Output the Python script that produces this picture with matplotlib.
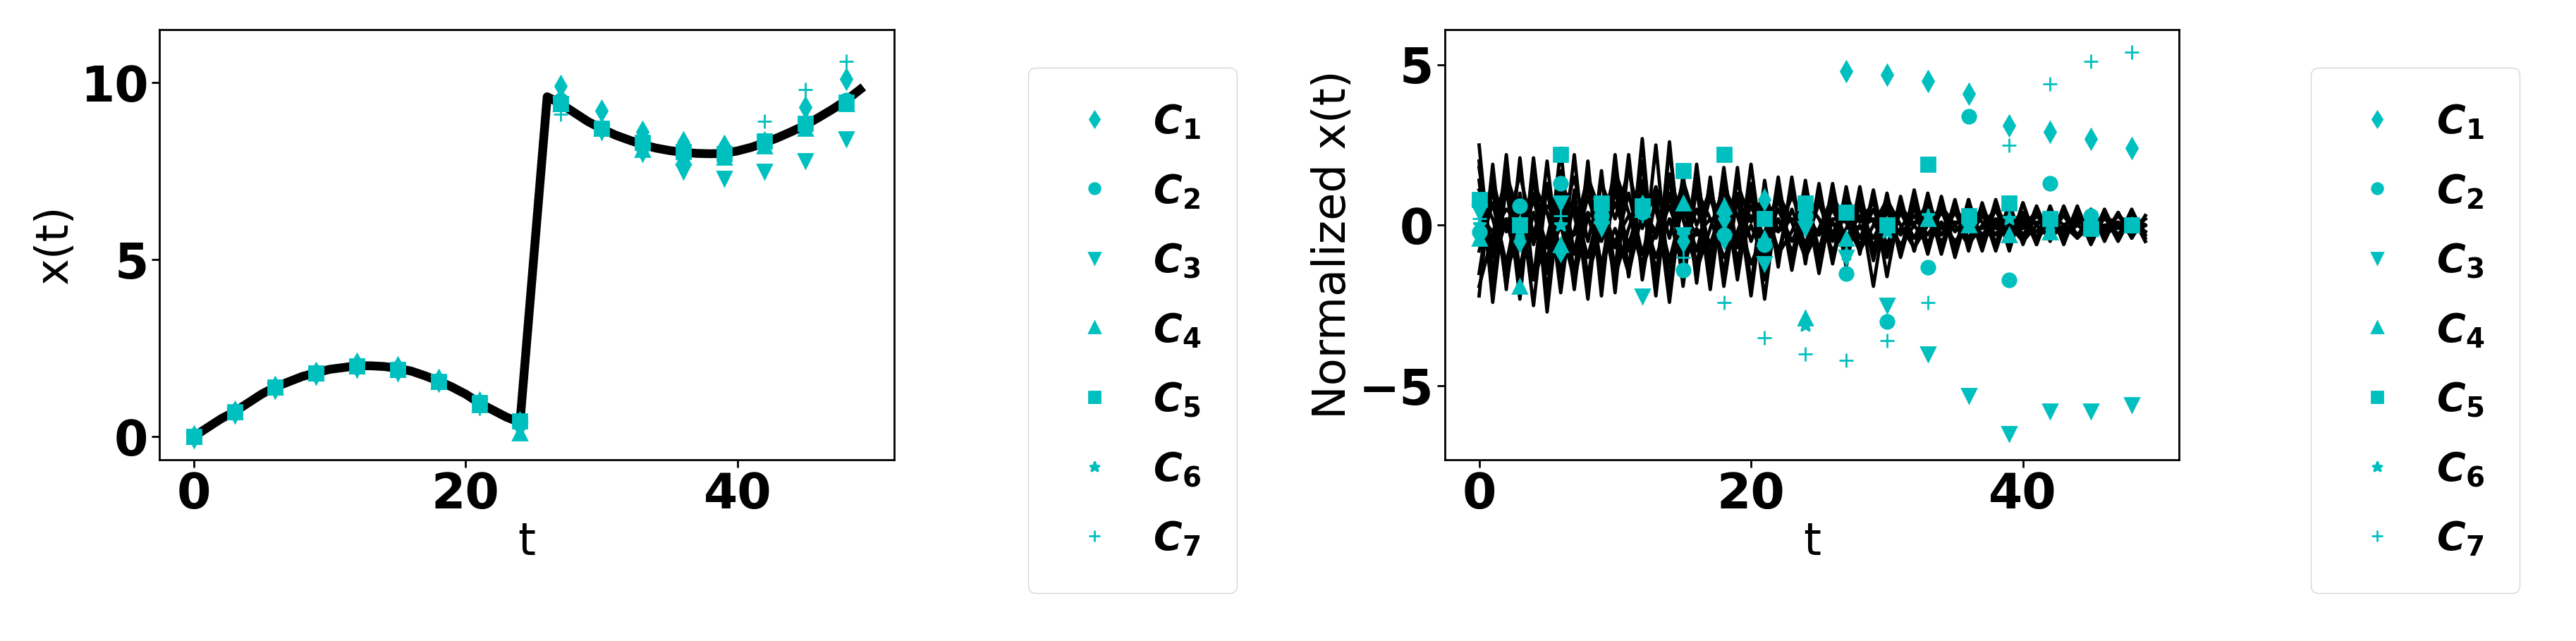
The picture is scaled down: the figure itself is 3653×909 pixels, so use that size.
import matplotlib
matplotlib.use('Agg')
import matplotlib.pyplot as plt

# time axis and marker sampling times
t = list(range(50))
t_obs = list(range(0, 49, 3))

# true trajectory (left panel)
x_true = [0.0, 0.25, 0.5, 0.7, 0.95, 1.2, 1.4, 1.55, 1.7, 1.8, 1.9, 1.95, 2.0, 2.0, 1.98, 1.93,
          1.85, 1.72, 1.57, 1.4, 1.2, 0.95, 0.75, 0.55, 0.4, 5.0, 9.6, 9.4, 9.15, 8.9,
          8.7, 8.52, 8.38, 8.25, 8.15, 8.08, 8.03, 8.0, 7.99, 8.0, 8.07, 8.17, 8.3, 8.45, 8.62,
          8.8, 9.02, 9.25, 9.5, 9.8]

# normalized trajectories (right panel)
norm_lines = [
    [2.5,-1.8,2.2,-2.0,2.1,-1.5,2.4,-1.9,2.0,-2.2,1.8,-1.6,2.7,-2.0,2.6,-1.7,1.9,-1.5,1.8,-1.4,1.9,-1.3,1.5,-1.2,1.4,-1.1,1.3,-1.0,1.2,-1.0,1.0,-0.9,1.1,-0.8,0.9,-0.8,0.8,-0.7,0.8,-0.6,0.7,-0.6,0.6,-0.5,0.6,-0.5,0.5,-0.4,0.5,-0.4],
    [-2.2,1.9,-2.0,2.1,-1.7,2.0,-1.6,2.2,-1.8,1.7,-2.1,2.0,-1.5,2.5,-1.9,1.6,-1.8,1.5,-1.6,1.8,-1.9,1.4,-1.3,1.5,-1.2,1.3,-1.1,1.2,-0.9,1.1,-1.0,0.9,-0.8,1.0,-0.7,0.8,-0.8,0.7,-0.6,0.7,-0.6,0.5,-0.5,0.6,-0.4,0.5,-0.5,0.4,-0.4,0.3],
    [-1.5,1.2,-1.9,1.0,-2.5,1.3,-2.1,1.1,-2.3,1.5,-1.4,2.2,-1.7,1.0,-2.4,1.2,-1.3,1.4,-1.9,0.9,-2.2,1.0,-1.0,1.2,-0.9,1.0,-1.2,0.8,-0.7,0.9,-1.6,0.7,-0.8,0.7,-0.9,0.6,-0.6,0.5,-0.8,0.5,-0.5,0.6,-0.4,0.5,-0.4,0.4,-0.3,0.4,-0.4,0.3],
    [1.8,-1.0,1.5,-1.4,1.0,-1.2,1.7,-0.9,1.3,-1.3,1.1,-0.8,1.2,-1.5,1.0,-1.2,1.4,-1.0,1.6,-0.7,1.2,-0.9,0.9,-1.0,1.1,-0.8,0.9,-0.6,0.8,-0.7,0.6,-0.9,0.7,-0.6,0.5,-0.7,0.6,-0.4,0.5,-0.5,0.4,-0.4,0.5,-0.3,0.4,-0.4,0.3,-0.3,0.3,-0.3],
    [0.9,-0.6,1.0,-0.5,0.8,-0.7,0.6,-0.8,0.9,-0.5,0.7,-0.6,0.8,-0.4,0.6,-0.7,0.5,-0.6,0.7,-0.5,0.6,-0.4,0.5,-0.5,0.4,-0.3,0.5,-0.4,0.3,-0.4,0.4,-0.3,0.3,-0.3,0.4,-0.2,0.3,-0.3,0.2,-0.3,0.2,-0.2,0.3,-0.2,0.2,-0.2,0.2,-0.1,0.2,-0.2],
    [-0.8,0.7,-1.2,0.9,-0.6,1.1,-0.9,0.6,-1.0,0.8,-0.7,1.0,-0.9,0.7,-1.1,0.6,-0.8,0.9,-0.6,1.0,-0.5,0.7,-0.8,0.5,-0.6,0.7,-0.5,0.6,-0.4,0.5,-0.6,0.4,-0.4,0.5,-0.3,0.4,-0.4,0.3,-0.3,0.4,-0.3,0.3,-0.2,0.3,-0.3,0.2,-0.2,0.3,-0.2,0.2],
    [1.4,-2.0,1.9,-1.7,1.6,-2.1,1.4,-1.5,1.7,-1.9,1.5,-1.4,2.0,-1.8,2.4,-1.3,1.7,-1.2,1.5,-1.6,1.3,-1.7,1.2,-1.3,1.1,-1.2,1.0,-1.3,0.9,-1.1,0.8,-0.9,0.9,-0.8,0.7,-0.9,0.8,-0.7,0.6,-0.8,0.7,-0.5,0.5,-0.6,0.5,-0.5,0.4,-0.4,0.4,-0.5],
    [2.0,-2.4,1.3,-2.3,1.8,-2.7,1.2,-2.0,1.5,-1.8,2.2,-1.6,1.4,-2.2,1.6,-1.9,1.2,-2.0,1.3,-1.7,1.1,-2.3,1.0,-1.4,0.9,-1.5,0.8,-1.1,0.7,-1.9,0.8,-1.0,0.6,-0.9,0.7,-1.0,0.5,-0.8,0.6,-0.7,0.4,-0.6,0.5,-0.5,0.4,-0.6,0.3,-0.5,0.3,-0.5],
    [0.3,-0.2,0.5,0.1,-0.4,0.6,0.2,-0.3,0.4,0.0,-0.5,0.3,0.5,-0.2,0.1,0.4,-0.3,0.2,0.0,-0.4,0.3,0.1,-0.2,0.2,0.0,-0.3,0.2,0.1,-0.1,0.2,0.0,-0.2,0.1,0.1,-0.1,0.1,0.0,-0.1,0.1,0.0,-0.1,0.1,0.0,-0.1,0.1,0.0,0.0,0.1,-0.1,0.0],
    [-0.4,1.4,-0.2,1.6,-0.3,1.2,0.1,1.5,-0.5,1.3,0.2,1.7,-0.1,1.2,-0.4,1.4,0.0,1.1,-0.3,1.3,0.1,1.0,-0.2,0.9,0.0,0.8,-0.3,0.9,0.1,0.7,-0.2,0.6,0.0,0.7,-0.1,0.5,0.0,0.5,-0.1,0.4,0.0,0.4,-0.1,0.3,0.0,0.3,-0.1,0.3,0.0,0.2],
    [0.5,-1.3,0.2,-1.6,0.4,-1.1,0.0,-1.7,0.3,-1.2,-0.1,-1.5,0.4,-1.0,0.2,-1.3,-0.1,-1.2,0.3,-1.0,0.0,-1.1,0.2,-0.8,-0.1,-0.9,0.1,-0.7,0.0,-0.8,0.1,-0.6,0.0,-0.6,0.1,-0.5,0.0,-0.5,0.0,-0.4,0.1,-0.4,0.0,-0.3,0.0,-0.3,0.0,-0.3,0.0,-0.2],
    [1.1,0.2,-1.4,-0.3,1.3,0.4,-1.2,-0.2,1.5,0.3,-1.6,-0.1,1.2,0.5,-1.3,-0.3,1.1,0.2,-1.0,-0.2,1.0,0.1,-0.9,-0.2,0.8,0.2,-0.8,-0.1,0.7,0.1,-0.7,-0.1,0.6,0.1,-0.5,0.0,0.5,0.1,-0.5,0.0,0.4,0.0,-0.4,0.0,0.3,0.0,-0.3,0.0,0.3,0.0],
    [-1.9,-0.3,1.6,0.2,-1.7,-0.4,1.4,0.3,-1.5,-0.2,1.7,0.4,-1.3,-0.2,1.5,0.2,-1.4,-0.1,1.2,0.3,-1.2,-0.2,1.0,0.1,-1.0,-0.1,0.9,0.1,-0.8,0.0,0.8,0.0,-0.7,0.0,0.6,0.0,-0.6,0.0,0.5,0.0,-0.5,0.0,0.4,0.0,-0.4,0.0,0.3,0.0,-0.3,0.0],
]

# marker series, left panel (raw values)
raw_c = [
    [0.0,0.7,1.4,1.8,2.05,1.95,1.6,0.95,0.4,9.9,9.2,8.6,8.3,8.2,8.3,9.3,10.1],
    [0.0,0.7,1.4,1.8,2.0,1.9,1.55,0.95,0.4,9.5,8.7,8.2,8.0,8.0,8.3,8.8,9.5],
    [-0.1,0.6,1.3,1.7,1.9,1.8,1.5,0.85,0.2,9.4,8.6,8.0,7.5,7.3,7.5,7.8,8.4],
    [0.0,0.7,1.4,1.8,2.0,1.9,1.55,0.9,0.1,9.4,8.7,8.1,7.9,7.9,8.2,8.7,9.4],
    [0.0,0.7,1.4,1.8,2.0,1.9,1.55,0.95,0.45,9.4,8.7,8.3,8.05,8.0,8.35,8.85,9.45],
    [0.0,0.7,1.4,1.8,2.0,1.9,1.55,0.9,0.35,9.45,8.75,8.25,8.1,8.05,8.3,8.8,9.5],
    [0.0,0.7,1.4,1.8,2.0,1.9,1.55,0.8,0.3,9.1,8.8,8.4,8.1,8.1,8.9,9.8,10.6],
]

# marker series, right panel (normalized values)
norm_c = [
    [-0.3,-0.5,-0.8,0.1,0.6,-0.5,0.2,0.8,0.3,4.8,4.7,4.5,4.1,3.1,2.9,2.7,2.4],
    [-0.2,0.6,1.3,0.3,0.4,-1.4,-0.3,-0.6,0.3,-1.5,-3.0,-1.3,3.4,-1.7,1.3,0.3,0.0],
    [0.4,0.0,0.7,-0.1,-2.2,-0.3,-0.5,-1.2,-0.1,-1.0,-2.5,-4.0,-5.3,-6.5,-5.8,-5.8,-5.6],
    [-0.4,-1.9,-0.6,0.3,0.5,0.7,0.6,-0.4,-2.9,-0.4,0.0,0.2,0.0,-0.3,-0.2,0.0,0.0],
    [0.8,0.0,2.2,0.7,0.6,1.7,2.2,0.2,0.7,0.4,0.0,1.9,0.3,0.7,0.2,-0.1,0.0],
    [0.0,-0.2,0.0,0.5,0.4,-0.3,0.3,-0.5,-3.1,-0.9,-0.2,0.3,0.0,0.2,0.0,0.0,0.0],
    [0.2,0.1,0.3,0.1,0.3,-1.0,-2.4,-3.5,-4.0,-4.2,-3.6,-2.4,0.0,2.5,4.4,5.1,5.4],
]

markers = ['d', 'o', 'v', '^', 's', '*', '+']
labels = [r'$\mathbfit{C}_{\mathbf{%d}}$' % (i + 1) for i in range(7)]

fig = plt.figure(figsize=(36.53, 9.09), dpi=100)
ax1 = fig.add_axes([0.062, 0.283, 0.285, 0.671])
ax2 = fig.add_axes([0.561, 0.283, 0.285, 0.671])

ax1.plot(t, x_true, color='k', lw=9)
for ys, m, lab in zip(raw_c, markers, labels):
    ax1.plot(t_obs, ys, m, color='c', ms=14, mew=2, label=lab)

for line in norm_lines:
    ax2.plot(t, line, color='k', lw=3.5)
for ys, m, lab in zip(norm_c, markers, labels):
    ax2.plot(t_obs, ys, m, color='c', ms=14, mew=2, label=lab)

ax1.set_xlim(-2.5, 51.5)
ax1.set_ylim(-0.65, 11.5)
ax1.set_ylabel('x(t)', fontsize=46)
ax2.set_xlim(-2.5, 51.5)
ax2.set_ylim(-7.3, 6.1)
ax2.set_ylabel('Normalized x(t)', fontsize=46)

for ax in (ax1, ax2):
    ax.set_xticks([0, 20, 40])
    ax.set_xlabel('t', fontsize=46, labelpad=2)
    ax.tick_params(labelsize=50, width=2, length=8)
    for lbl in ax.get_xticklabels() + ax.get_yticklabels():
        lbl.set_fontweight('bold')
    for s in ax.spines.values():
        s.set_linewidth(2)

leg_kw = dict(loc='center left', fontsize=40, labelspacing=0.8, handletextpad=0.7,
              borderpad=0.9, markerscale=0.8, handlelength=1.6, borderaxespad=0)
ax1.legend(bbox_to_anchor=(1.0 + (0.399 - 0.347) / 0.285, 0.3), **leg_kw)
ax2.legend(bbox_to_anchor=(1.0 + (0.897 - 0.846) / 0.285, 0.3), **leg_kw)

fig.savefig('out.png', dpi=100)
